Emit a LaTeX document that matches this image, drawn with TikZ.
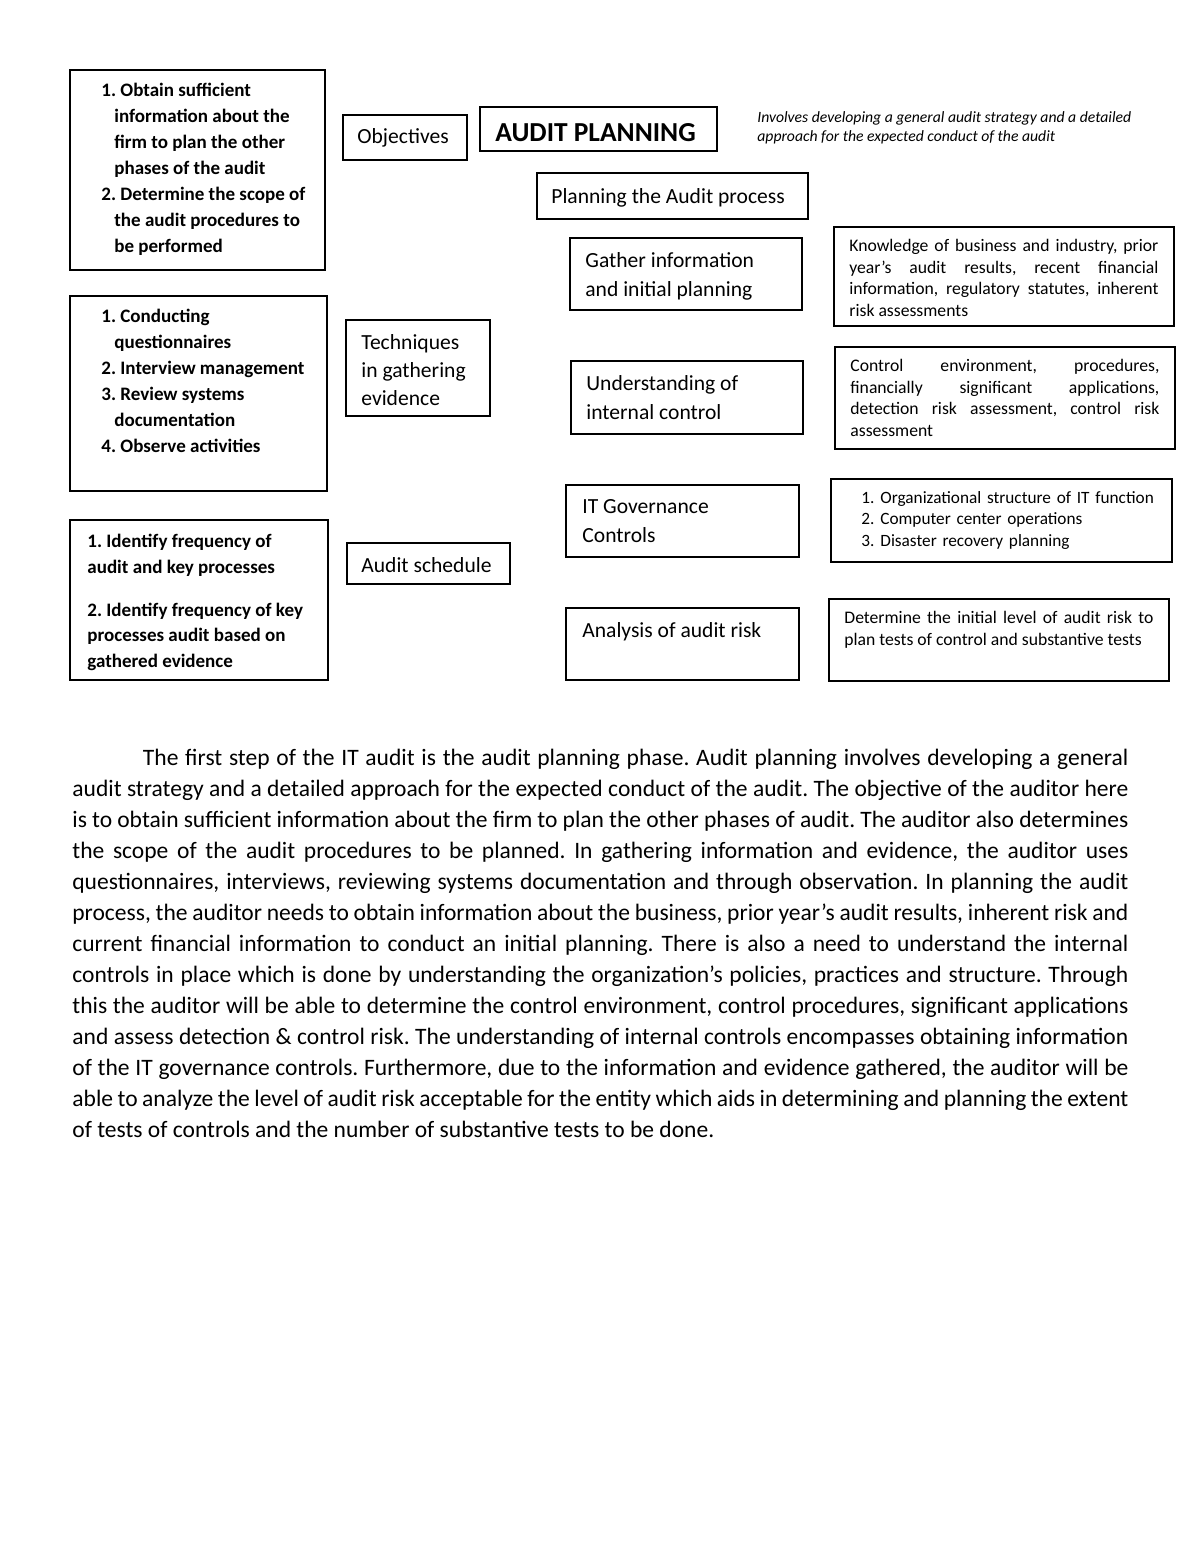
\documentclass[tikz,border=0pt]{standalone}
\usepackage{fontspec}
\setmainfont{Carlito}
\usetikzlibrary{positioning, fit}
\newcommand{\jl}[2][157.6pt]{\leavevmode\hbox to #1{\spaceskip=\fontdimen2\font
  plus 1fil minus .7\fontdimen2\font\relax #2}}
\newcommand{\nat}[1]{{\spaceskip=0pt\xspaceskip=0pt\relax #1}}
\newcommand{\itemno}[1]{\makebox[9.7pt][l]{#1}}
\newcommand{\contind}{\hspace*{6.6pt}}
\frenchspacing
\tikzset{
  frame/.style={draw, line width=1.3pt, inner sep=0pt},
  lbl/.style={inner sep=0pt, anchor=north west, align=left,
              font=\fontsize{11}{14.8}\selectfont},
  blist/.style={lbl, font=\fontsize{9.7}{13.2}\selectfont\bfseries},
  jnote/.style={inner sep=0pt, anchor=north west, text width=157.6pt,
                align=left, font=\fontsize{9}{11}\selectfont},
}
\begin{document}
\begin{tikzpicture}[x=0.51pt, y=-0.51pt]
  \useasboundingbox (0,0) rectangle (1200,1553);
  % left column: lists
  \node[frame, fit={(70,70) (325,270)}] (objlist) {};
  \node[blist] (objtxt) at (101,83) {\itemno{1.}Obtain sufficient\\
    \contind information about the\\ \contind firm to plan the other\\
    \contind phases of the audit\\ \itemno{2.}Determine the scope of\\
    \contind the audit procedures to\\ \contind be performed};
  \node[frame, fit={(70,296) (327,491)}] (techlist) {};
  \node[blist] (techtxt) at (101,309) {\itemno{1.}Conducting\\
    \contind questionnaires\\ \itemno{2.}Interview management\\
    \itemno{3.}Review systems\\ \contind documentation\\
    \itemno{4.}Observe activities};
  \node[frame, fit={(70,520) (328,680)}] (schedlist) {};
  \node[blist] (schedtxt) at (87,534) {1. Identify frequency of\\
    audit and key processes\\[8.4pt] 2. Identify frequency of key\\
    processes audit based on\\ gathered evidence};
  % middle column: headings
  \node[frame, fit={(343,115) (467,160)}] (objective) {};
  \node[lbl] (objectivetxt) at (357,128) {Objectives};
  \node[frame, fit={(346,320) (490,416)}] (techbox) {};
  \node[lbl, font=\fontsize{11}{14.3}\selectfont] (techboxtxt) at (361,334)
    {Techniques\\ in gathering\\ evidence};
  \node[frame, fit={(347,543) (510,584)}] (schedbox) {};
  \node[lbl] (schedboxtxt) at (361,557) {Audit schedule};
  % title
  \node[frame, fit={(480,107) (717,151)}] (title) {};
  \node[lbl, font=\fontsize{14}{16}\selectfont\bfseries] (titletxt) at (495,123)
    {AUDIT PLANNING};
  \node[lbl, font=\fontsize{8}{9.7}\selectfont\itshape] (titlenote) at (757,111)
    {Involves developing a general audit strategy and a detailed\\
     approach for the expected conduct of the audit};
  \node[frame, fit={(537,173) (808,219)}] (planbox) {};
  \node[lbl] (planboxtxt) at (551,188) {Planning the Audit process};
  % process steps
  \node[frame, fit={(570,238) (802,310)}] (gather) {};
  \node[lbl] (gathertxt) at (585,252) {Gather information\\ and initial planning};
  \node[frame, fit={(571,361) (803,434)}] (control) {};
  \node[lbl] (controltxt) at (586,375) {Understanding of\\ internal control};
  \node[frame, fit={(566,485) (799,557)}] (itgov) {};
  \node[lbl] (itgovtxt) at (582,499) {IT Governance\\ Controls};
  \node[frame, fit={(566,608) (799,680)}] (risk) {};
  \node[lbl] (risktxt) at (582,622) {Analysis of audit risk};
  % right column: details
  \node[frame, fit={(834,227) (1174,326)}] (gatherinfo) {};
  \node[jnote] (gatherinfotxt) at (849,239)
    {\jl{Knowledge of business and industry, prior}\\
     \jl{year's audit results, recent financial}\\
     \jl{information, regulatory statutes, inherent}\\
     \nat{risk assessments}};
  \node[frame, fit={(835,347) (1175,449)}] (controlinfo) {};
  \node[jnote] (controlinfotxt) at (850,359)
    {\jl{Control environment, procedures,}\\
     \jl{financially significant applications,}\\
     \jl{detection risk assessment, control risk}\\
     assessment};
  \node[frame, fit={(831,479) (1172,562)}] (itgovinfo) {};
  \node[jnote, text width=160pt, font=\fontsize{8.8}{11}\selectfont]
    (itgovinfotxt) at (861,491)
    {\itemno{1.}Organizational structure of IT function\\
     \itemno{2.}Computer center operations\\
     \itemno{3.}Disaster recovery planning};
  \node[frame, fit={(829,599) (1169,681)}] (riskinfo) {};
  \node[jnote] (riskinfotxt) at (844,611)
    {\jl{Determine the initial level of audit risk to}\\
     \nat{plan tests of control and substantive tests}};
  % summary paragraph
  \node[inner sep=0pt, anchor=north west, text width=538.6pt, align=left,
        font=\fontsize{12}{15.8}\selectfont] (summary) at (72,749)
    {\jl[538.6pt]{\hspace*{36pt}The first step of the IT audit is the audit planning phase. Audit planning involves developing a general}\\
     \jl[538.6pt]{audit strategy and a detailed approach for the expected conduct of the audit. The objective of the auditor here}\\
     \jl[538.6pt]{is to obtain sufficient information about the firm to plan the other phases of audit. The auditor also determines}\\
     \jl[538.6pt]{the scope of the audit procedures to be planned. In gathering information and evidence, the auditor uses}\\
     \jl[538.6pt]{questionnaires, interviews, reviewing systems documentation and through observation. In planning the audit}\\
     \jl[538.6pt]{process, the auditor needs to obtain information about the business, prior year's audit results, inherent risk and}\\
     \jl[538.6pt]{current financial information to conduct an initial planning. There is also a need to understand the internal}\\
     \jl[538.6pt]{controls in place which is done by understanding the organization's policies, practices and structure. Through}\\
     \jl[538.6pt]{this the auditor will be able to determine the control environment, control procedures, significant applications}\\
     \jl[538.6pt]{and assess detection \& control risk. The understanding of internal controls encompasses obtaining information}\\
     \jl[538.6pt]{of the IT governance controls. Furthermore, due to the information and evidence gathered, the auditor will be}\\
     \jl[538.6pt]{able to analyze the level of audit risk acceptable for the entity which aids in determining and planning the extent}\\
     \nat{of tests of controls and the number of substantive tests to be done.}};
\end{tikzpicture}
\end{document}
